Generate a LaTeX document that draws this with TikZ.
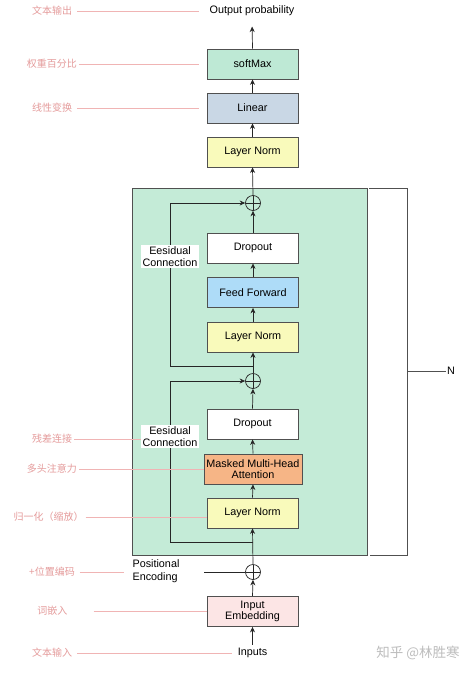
\documentclass[tikz,border=0pt]{standalone}
\usepackage{fontspec}
\setmainfont{Liberation Sans}
\newfontfamily\cjk{Noto Sans CJK SC}
\usetikzlibrary{arrows.meta}
\definecolor{bggreen}{HTML}{C4EBD7}
\definecolor{smgreen}{HTML}{BEE9D5}
\definecolor{linblue}{HTML}{C9D7E5}
\definecolor{lnyellow}{HTML}{F9FABB}
\definecolor{ffblue}{HTML}{AEDCF8}
\definecolor{mhaorange}{HTML}{F6B586}
\definecolor{embpink}{HTML}{FCE5E5}
\definecolor{labelpink}{HTML}{E59C9C}
\definecolor{linepink}{HTML}{F0B4B4}
\definecolor{boxline}{HTML}{505050}
\definecolor{wmgray}{HTML}{BDBDBD}
\begin{document}
\begin{tikzpicture}[x=1pt,y=-1pt,font=\fontsize{10.8}{12.5}\selectfont,
  box/.style={draw=boxline,line width=0.8pt,minimum width=91pt,minimum height=30pt,inner sep=0pt,align=center},
  arr/.style={-{Stealth[length=5.5pt,width=5pt]},line width=0.7pt,draw=black!85},
  conn/.style={line width=0.7pt,draw=black!85},
  plusnode/.style={circle,draw=black!85,line width=0.7pt,minimum size=15pt,inner sep=0pt,
    path picture={\draw[line width=0.7pt] (path picture bounding box.west) -- (path picture bounding box.east)
      (path picture bounding box.north) -- (path picture bounding box.south);}},
  lbl/.style={text=labelpink,font=\cjk\fontsize{10}{12}\selectfont,inner sep=2pt},
  lblline/.style={draw=linepink,line width=0.6pt},
  rlabel/.style={fill=white,align=center,inner sep=1.5pt,font=\fontsize{10.8}{12}\selectfont}]
\useasboundingbox (0,0) rectangle (474,675);
\fill[white] (0,0) rectangle (474,675);

% encoder/decoder block background
\node[draw=boxline,fill=bggreen,line width=0.8pt,minimum width=235pt,minimum height=367pt,inner sep=0pt] (blk) at (249.5,371.5) {};
% N bracket
\coordinate (bt) at (369,188);
\coordinate (bb) at (370,555);
\coordinate (nm) at (407,371);
\draw[draw=boxline,line width=0.8pt] (bt) -- (407,188) -- (407,555) -- (bb);
\node[inner sep=1pt,anchor=west] (N) at (446,371) {N};
\draw[draw=boxline,line width=0.8pt] (nm) -- (N.west);

% top stack
\node (out) at (252,11) {Output probability};
\node[box,fill=smgreen] (sm) at (252.5,64) {softMax};
\node[box,fill=linblue] (lin) at (252.5,108) {Linear};
\node[box,fill=lnyellow] (ln0) at (252.5,152) {Layer Norm};

% upper sublayer
\node[plusnode] (p1) at (253,203) {};
\node[box,fill=white] (do1) at (253,248) {Dropout};
\node[box,fill=ffblue] (ff) at (253,292.5) {Feed Forward};
\node[box,fill=lnyellow] (ln1) at (253,337) {Layer Norm};

% lower sublayer
\node[plusnode] (p2) at (253,381) {};
\node[box,fill=white] (do2) at (252.5,424) {Dropout};
\node[box,fill=mhaorange,minimum width=98pt] (mha) at (253,469) {Masked Multi-Head\\[-1pt]Attention};
\node[box,fill=lnyellow] (ln2) at (252.5,513) {Layer Norm};

% input
\node[plusnode] (p3) at (253,572) {};
\node[align=left,font=\fontsize{10.8}{13}\selectfont] (pe) at (156,571) {Positional\\Encoding};
\coordinate (pel) at (204,572);
\node[box,fill=embpink] (emb) at (252.5,611.5) {Input\\[-1pt]Embedding};
\node (inp) at (252.5,653) {Inputs};

% main arrows
\draw[arr] (inp.north) -- (emb.south);
\draw[arr] (emb.north) -- (p3.south);
\draw[conn] (pel) -- (p3.west);
\draw[arr] (p3.north) -- (ln2.south);
\draw[arr] (ln2.north) -- (mha.south);
\draw[arr] (mha.north) -- (do2.south);
\draw[arr] (do2.north) -- (p2.south);
\draw[arr] (p2.north) -- (ln1.south);
\draw[arr] (ln1.north) -- (ff.south);
\draw[arr] (ff.north) -- (do1.south);
\draw[arr] (do1.north) -- (p1.south);
\draw[arr] (p1.north) -- (ln0.south);
\draw[arr] (ln0.north) -- (lin.south);
\draw[arr] (lin.north) -- (sm.south);
\draw[arr,shorten >=7pt] (sm.north) -- (out.south);

% residual connections
\coordinate (r1b) at (253,366);
\coordinate (r1c) at (170,203);
\draw[arr] (r1b) -| (r1c) -- (p1.west);
\node[rlabel] (rl1) at (170,256.5) {Eesidual\\Connection};
\coordinate (r2b) at (253,542);
\coordinate (r2c) at (170,381);
\draw[arr] (r2b) -| (r2c) -- (p2.west);
\node[rlabel] (rl2) at (170,436.5) {Eesidual\\Connection};

% left annotations
\node[lbl] (a1) at (52,11) {文本输出};
\coordinate (a1e) at (199,11);
\draw[lblline] ([xshift=3pt]a1.east) -- (a1e);
\node[lbl] (a2) at (52,64) {权重百分比};
\coordinate (a2e) at (199,64);
\draw[lblline] (a2.east) -- (a2e);
\node[lbl] (a3) at (52,108) {线性变换};
\coordinate (a3e) at (199,108);
\draw[lblline] ([xshift=3pt]a3.east) -- (a3e);
\node[lbl] (a4) at (52,439) {残差连接};
\draw[lblline] (a4.east) -- (rl2.west|-a4.east);
\node[lbl] (a5) at (52,469) {多头注意力};
\draw[lblline] (a5.east) -- (mha.west|-a5.east);
\node[lbl] (a6) at (48.5,517) {归一化（缩放）};
\draw[lblline] (a6.east) -- (ln2.west|-a6.east);
\node[lbl] (a7) at (52,572) {+位置编码};
\coordinate (a7e) at (124,572);
\draw[lblline] ([xshift=3pt]a7.east) -- (a7e);
\node[lbl] (a8) at (52.5,611) {词嵌入};
\draw[lblline] ([xshift=24pt]a8.east) -- (emb.west|-a8.east);
\node[lbl] (a9) at (52,653) {文本输入};
\coordinate (a9e) at (232,653);
\draw[lblline] ([xshift=3pt]a9.east) -- (a9e);

% watermark
\node[text=wmgray,font=\cjk\fontsize{13.5}{15}\selectfont] (wm) at (418,653) {知乎 @林胜寒};
\end{tikzpicture}
\end{document}
